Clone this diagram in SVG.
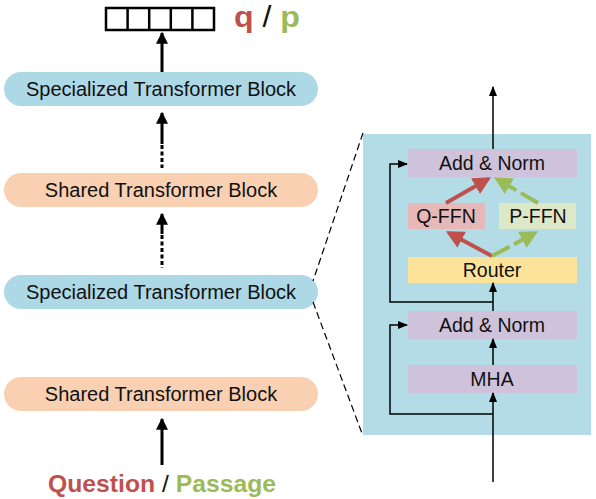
<svg xmlns="http://www.w3.org/2000/svg" width="596" height="499" viewBox="0 0 596 499">
<defs>
<style>
.t{font-family:"Liberation Sans",Arial,sans-serif;fill:#111;text-anchor:middle}
.pill{font-size:20px}
.inner{font-size:19.5px}
.spec{fill:#add8e6}
.shared{fill:#f9d0b2}
.k{stroke:#000;fill:none}
.thick{stroke-width:3}
.thin{stroke-width:1.5}
.dots{stroke-dasharray:4 2.5}
</style>
<marker id="ah" viewBox="0 0 10 10" refX="9" refY="5" markerWidth="4" markerHeight="4" orient="auto"><path d="M0,0 L10,5 L0,10 z" fill="#000"/></marker>
<marker id="as" viewBox="0 0 10 10" refX="9" refY="5" markerWidth="7" markerHeight="7" orient="auto"><path d="M0,1 L10,5 L0,9 z" fill="#000"/></marker>
<marker id="ar" viewBox="0 0 10 10" refX="8" refY="5" markerWidth="4.5" markerHeight="4.5" orient="auto"><path d="M0,0 L10,5 L0,10 z" fill="#c0504d"/></marker>
<marker id="ag" viewBox="0 0 10 10" refX="8" refY="5" markerWidth="4.5" markerHeight="4.5" orient="auto"><path d="M0,0 L10,5 L0,10 z" fill="#9bbb59"/></marker>
</defs>
<rect width="596" height="499" fill="#fff"/>

<g id="output">
<rect x="106" y="8" width="108" height="22" fill="#fff" stroke="#000" stroke-width="2.5"/>
<line x1="127.6" y1="8" x2="127.6" y2="30" stroke="#000" stroke-width="2.5"/>
<line x1="149.2" y1="8" x2="149.2" y2="30" stroke="#000" stroke-width="2.5"/>
<line x1="170.8" y1="8" x2="170.8" y2="30" stroke="#000" stroke-width="2.5"/>
<line x1="192.4" y1="8" x2="192.4" y2="30" stroke="#000" stroke-width="2.5"/>
<text x="234" y="27" textLength="66" lengthAdjust="spacingAndGlyphs" style="font-family:'Liberation Sans',Arial,sans-serif;font-size:30px;font-weight:bold"><tspan fill="#c0504d">q</tspan><tspan fill="#111" font-weight="normal"> / </tspan><tspan fill="#9bbb59">p</tspan></text>
</g>

<g id="spec-top">
<rect x="4" y="72" width="314" height="34" rx="17" class="spec"/>
<text x="161" y="96" class="t pill">Specialized Transformer Block</text>
</g>
<g id="shared-top">
<rect x="4" y="173" width="314" height="34" rx="17" class="shared"/>
<text x="161" y="197" class="t pill">Shared Transformer Block</text>
</g>
<g id="spec-mid">
<rect x="4" y="275" width="314" height="34" rx="17" class="spec"/>
<text x="161" y="299" class="t pill">Specialized Transformer Block</text>
</g>
<g id="shared-bottom">
<rect x="4" y="377" width="314" height="34" rx="17" class="shared"/>
<text x="161" y="401" class="t pill">Shared Transformer Block</text>
</g>
<g id="input">
<text x="48" y="492" textLength="228" lengthAdjust="spacingAndGlyphs" style="font-family:'Liberation Sans',Arial,sans-serif;font-size:24px;font-weight:bold"><tspan fill="#c0504d">Question</tspan><tspan fill="#111" font-weight="normal"> / </tspan><tspan fill="#9bbb59">Passage</tspan></text>
</g>

<g id="panel">
<rect x="363" y="134" width="228" height="301" fill="#b3dce6"/>
</g>
<g id="add-norm-top">
<rect x="408" y="149" width="169" height="28" fill="#cfc3dc"/>
<text x="492" y="170" class="t inner">Add &amp; Norm</text>
</g>
<g id="q-ffn">
<rect x="408" y="203" width="77" height="26" fill="#e6b9b8"/>
<text x="446" y="223" class="t inner">Q-FFN</text>
</g>
<g id="p-ffn">
<rect x="499" y="203" width="77" height="26" fill="#dce8c8"/>
<text x="538" y="223" class="t inner">P-FFN</text>
</g>
<g id="router">
<rect x="408" y="257" width="169" height="26" fill="#fde39a"/>
<text x="492" y="277" class="t inner">Router</text>
</g>
<g id="add-norm-bottom">
<rect x="408" y="311" width="169" height="28" fill="#cfc3dc"/>
<text x="492" y="332" class="t inner">Add &amp; Norm</text>
</g>
<g id="mha">
<rect x="408" y="365" width="169" height="28" fill="#cfc3dc"/>
<text x="492" y="386" class="t inner">MHA</text>
</g>

<g id="connectors">
<line x1="162" y1="72" x2="162" y2="33" class="k thick" marker-end="url(#ah)"/>
<line x1="162" y1="144" x2="162" y2="113" class="k thick" marker-end="url(#ah)"/>
<line x1="162" y1="145" x2="162" y2="168" class="k thick dots"/>
<line x1="162" y1="234" x2="162" y2="214" class="k thick" marker-end="url(#ah)"/>
<line x1="162" y1="235" x2="162" y2="268" class="k thick dots"/>
<line x1="162" y1="465" x2="162" y2="419" class="k thick" marker-end="url(#ah)"/>
<line x1="363" y1="133" x2="313" y2="281" stroke="#000" stroke-width="1.2" stroke-dasharray="7 4"/>
<line x1="313" y1="302" x2="363" y2="436" stroke="#000" stroke-width="1.2" stroke-dasharray="7 4"/>
<line x1="493" y1="482" x2="493" y2="393" class="k thin" marker-end="url(#as)"/>
<line x1="493" y1="365" x2="493" y2="339" class="k thin" marker-end="url(#as)"/>
<line x1="493" y1="311" x2="493" y2="283" class="k thin" marker-end="url(#as)"/>
<line x1="493" y1="149" x2="493" y2="87" class="k thin" marker-end="url(#as)"/>
<polyline points="493,414 390,414 390,325 407,325" class="k thin" marker-end="url(#as)"/>
<polyline points="493,302 390,302 390,164 407,164" class="k thin" marker-end="url(#as)"/>
<line x1="492" y1="256" x2="449" y2="233" stroke="#c0504d" stroke-width="4" marker-end="url(#ar)"/>
<line x1="446" y1="203" x2="488" y2="179" stroke="#c0504d" stroke-width="4" marker-end="url(#ar)"/>
<line x1="492" y1="256" x2="535" y2="233" stroke="#9bbb59" stroke-width="4" stroke-dasharray="20 5" marker-end="url(#ag)"/>
<line x1="538" y1="203" x2="497" y2="179" stroke="#9bbb59" stroke-width="4" stroke-dasharray="20 5" marker-end="url(#ag)"/>
</g>
</svg>
